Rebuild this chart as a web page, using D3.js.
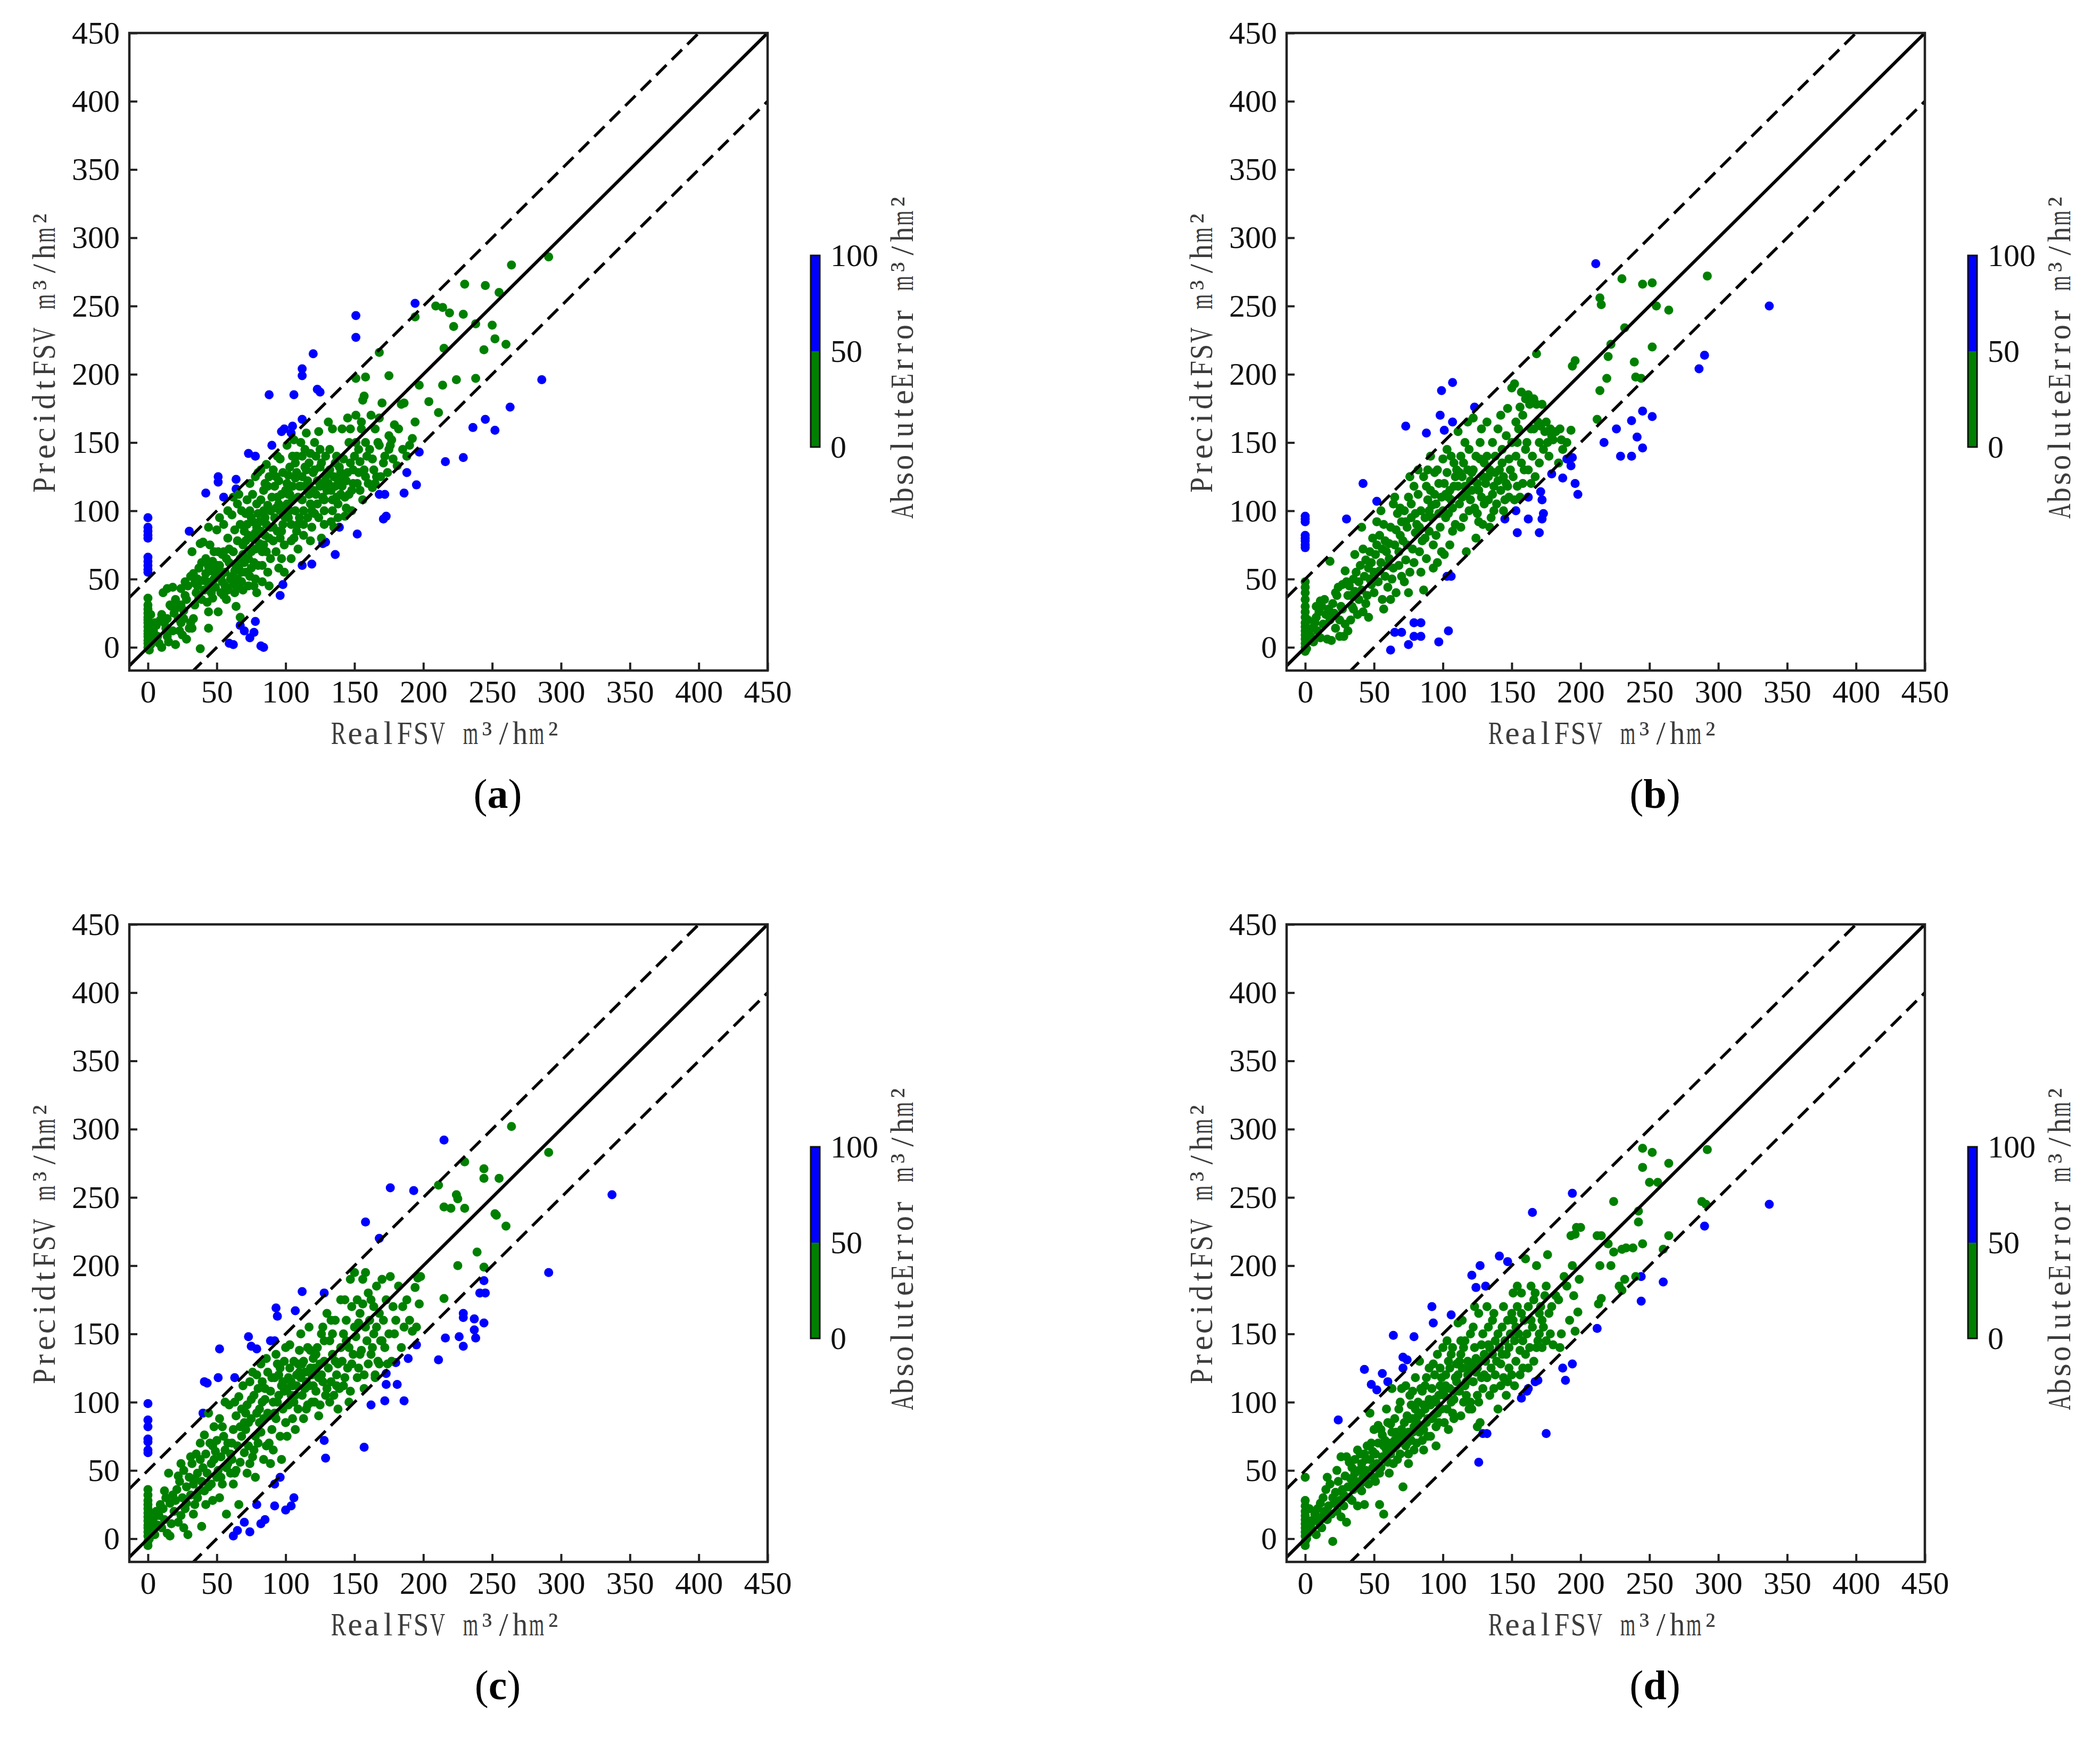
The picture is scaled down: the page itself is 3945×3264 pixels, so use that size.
<!DOCTYPE html>
<html>
<head>
<meta charset="utf-8">
<script src="https://cdn.jsdelivr.net/npm/d3@7"></script>
<style>
  html, body { margin: 0; padding: 0; background: #fff; overflow: hidden; }
  svg { display: block; }
</style>
</head>
<body>
<svg id="chart" width="3945" height="3264"></svg>
<script>
const pointsA = [
  [0,95],[0,88],[0,85],[0,82],[0,80],[0,66],[0,63],[0,60],[0,57],[0,55],
  [30,85],[42,113],[51,125],[51,121],[55,110],[64,123],[64,116],[73,142],[78,140],[88,185],[90,148],[97,158],[99,160],[105,162],[104,157],[106,185],[112,204],[112,199],[112,167],[120,215],[123,189],[125,187],[151,243],[151,227],[194,252],[197,143],[188,128],[186,113],[195,119],[216,136],[229,139],[236,161],[245,167],[252,159],[263,176],[286,196],[168,112],[172,112],[171,94],[173,96],[152,83],[139,88],[136,68],[127,76],[129,77],[119,61],[112,60],[98,46],[96,38],[67,16],[70,12],[74,7],[77,11],[78,19],[82,1],[84,0],[59,3],[62,2],
  [0,0],[0,3],[0,5],[0,8],[0,10],[0,12],[0,15],[0,18],[0,20],[0,22],[0,25],[0,28],[0,31],[0,36],[1,-2],[1,6],[1,13],[2,2],[2,17],[2,24],[3,10],[4,12],[5,6],[5,18],
  [6,16],[7,8],[8,3],[10,24],[10,0],[11,40],[12,18],[14,21],[14,8],[14,43],[15,4],[16,31],[17,30],[18,44],[19,25],[20,2],[20,35],[18,12],[13,14],[9,20],
  [22,21],[24,18],[25,9],[26,21],[28,6],[24,43],[24,31],[26,27],[27,38],[29,45],[30,14],[23,12],[28,35],[21,29],[27,48],
  [31,18],[32,14],[33,21],[34,31],[33,54],[37,58],[38,76],[36,45],[38,-1],[35,40],[39,35],[36,50],[32,70],[34,47],[37,36],[39,62],[31,52],
  [40,49],[40,77],[42,54],[44,59],[44,14],[44,26],[43,33],[47,63],[48,70],[45,45],[46,40],[48,50],[42,65],[49,55],[45,75],[47,36],[50,86],[41,42],[46,56],[49,44],[43,48],[50,60],[44,88],
  [51,26],[51,70],[55,70],[52,60],[54,48],[56,55],[58,42],[53,40],[57,65],[58,80],[52,95],[55,90],[60,50],[59,62],[57,35],[53,52],[56,45],[54,68],[59,72],[51,58],[55,38],[58,100],
  [61,97],[63,86],[62,70],[64,60],[65,50],[66,45],[68,55],[67,65],[69,75],[63,40],[68,100],[65,105],[62,110],[66,112],[70,85],[70,62],[69,42],[64,30],[67,22],[61,52],[63,56],[65,78],[67,90],[69,68],[62,46],[66,58],[68,48],
  [72,108],[74,100],[75,95],[72,90],[76,80],[78,72],[73,65],[75,58],[78,50],[71,55],[77,45],[79,40],[74,120],[76,112],[78,125],[80,98],[80,128],[79,88],[73,45],[80,60],[71,78],[73,82],[75,70],[77,62],[79,105],[71,98],[76,92],[74,52],[78,84],
  [82,108],[84,100],[85,95],[86,90],[82,85],[88,80],[84,75],[86,70],[89,65],[83,60],[87,55],[88,45],[85,120],[84,115],[82,130],[88,125],[90,110],[86,134],[89,100],[83,48],[81,92],[87,104],[85,82],[83,70],[89,88],[81,76],[87,118],
  [92,118],[94,110],[95,105],[96,100],[92,95],[98,90],[94,85],[96,80],[99,75],[93,70],[97,65],[95,58],[99,55],[91,130],[93,125],[96,138],[98,128],[100,115],[100,102],[94,140],[91,88],[97,112],[93,102],[99,96],[95,122],[91,78],[97,85],
  [101,120],[103,112],[105,108],[107,100],[102,95],[104,90],[108,85],[106,80],[109,72],[103,132],[105,140],[108,128],[110,118],[101,148],[106,152],[104,65],[110,95],[102,126],[107,135],[109,110],[101,105],[103,100],[105,118],[107,124],[109,90],[104,78],[102,112],[108,140],
  [112,125],[114,118],[115,130],[117,112],[112,140],[118,105],[113,100],[116,95],[119,88],[111,150],[114,145],[117,135],[120,128],[113,82],[118,78],[115,157],[120,115],[112,108],[114,132],[116,122],[118,142],[119,100],[111,118],[113,90],
  [121,130],[123,122],[125,118],[127,110],[122,140],[128,100],[124,95],[126,135],[129,125],[121,150],[125,145],[128,90],[130,115],[123,105],[126,80],[129,140],[124,158],[130,128],[122,112],[127,120],[125,132],[121,98],[128,108],
  [131,120],[133,115],[135,125],[137,110],[132,130],[138,105],[134,100],[136,135],[139,120],[131,165],[134,160],[137,140],[140,128],[133,92],[138,95],[135,88],[140,112],[132,145],[136,118],[139,132],[134,108],[137,124],
  [141,118],[143,110],[145,128],[147,135],[142,125],[148,100],[144,102],[146,150],[149,120],[141,160],[145,168],[147,160],[150,140],[143,96],[148,115],[146,112],[142,138],[149,130],[144,122],
  [151,150],[153,145],[155,160],[157,130],[152,120],[158,125],[154,115],[156,108],[159,140],[151,170],[155,165],[157,184],[160,120],[153,128],[158,150],[151,197],[158,198],[156,181],[154,136],
  [161,145],[163,138],[165,120],[167,150],[162,170],[168,148],[164,130],[166,125],[169,125],[168,168],[170,179],[165,160],[168,216],[163,117],
  [172,140],[175,155],[178,138],[174,128],[176,148],[179,163],[171,135],[175,145],[175,199],[177,152],
  [181,133],[184,178],[186,179],[185,145],[190,148],[194,165],[197,192],[192,153],[188,140],[194,242],[182,160],
  [291,286],[264,280],[255,260],[245,265],[230,266],[229,244],[219,245],[209,250],[214,249],[222,235],[238,237],[250,236],[252,226],[260,222],[244,218],[215,219],[224,196],[238,197],[214,192],[211,172],[204,180]
];

const pointsB = [
  [0,96],[0,94],[0,92],[0,82],[0,80],[0,78],[0,75],[0,73],[30,94],[42,120],[52,107],[73,162],[88,157],[99,188],[98,170],[107,194],[107,165],[101,159],[123,176],[211,281],[337,250],[286,204],[290,214],[252,169],[245,173],[237,166],[241,154],[245,146],[237,140],[229,140],[226,160],[217,150],[190,138],[194,139],[193,133],[196,120],[198,112],[187,124],[179,127],[171,114],[172,108],[173,98],[172,94],[170,84],[162,110],[162,94],[153,100],[154,84],[145,94],[103,52],[106,52],[62,-2],[65,11],[70,11],[75,2],[79,8],[79,18],[84,18],[84,8],[97,4],[104,12],
  [0,0],[0,-3],[0,3],[0,6],[0,9],[0,12],[0,15],[0,18],[0,22],[0,26],[0,30],[0,35],[0,40],[0,44],[0,48],[1,-1],[1,10],[2,5],[2,20],
  [4,8],[5,14],[6,4],[7,18],[8,22],[9,12],[10,26],[11,7],[12,30],[13,17],[14,35],[15,24],[16,6],[17,28],[18,63],[19,5],[20,32],[18,20],[11,34],[8,30],
  [21,25],[22,14],[23,38],[24,44],[25,20],[26,30],[27,46],[28,8],[29,17],[30,48],[27,28],[22,40],[29,56],[25,8],
  [31,12],[32,45],[33,38],[34,30],[35,50],[36,41],[37,55],[38,24],[39,35],[40,60],[33,20],[36,68],[39,48],[35,28],[31,38],
  [41,42],[42,26],[43,52],[44,64],[45,38],[46,58],[47,70],[48,46],[49,80],[50,55],[41,88],[44,32],[46,22],[48,62],[42,72],[50,40],[47,50],
  [51,68],[52,75],[53,48],[54,82],[55,62],[56,35],[57,90],[58,52],[59,70],[60,44],[52,92],[55,100],[57,28],[58,78],[60,60],[54,56],[56,72],
  [61,65],[62,88],[63,50],[64,105],[65,75],[66,40],[67,98],[68,60],[69,82],[70,52],[62,35],[65,110],[68,70],[70,92],[64,58],[66,86],[61,76],[69,102],
  [71,78],[72,100],[73,64],[74,88],[75,110],[76,55],[77,95],[78,72],[79,118],[80,84],[72,48],[75,40],[77,105],[79,62],[74,75],[73,92],[80,98],[76,125],
  [81,90],[82,112],[83,70],[84,100],[85,78],[86,125],[87,95],[88,65],[89,108],[90,85],[82,130],[84,55],[86,42],[88,118],[90,100],[83,88],[87,80],[89,130],
  [91,115],[92,95],[93,75],[94,128],[95,105],[96,62],[97,120],[98,88],[99,110],[100,138],[91,140],[93,58],[95,82],[97,98],[99,70],[94,112],[96,130],[100,100],[92,104],
  [101,120],[102,95],[103,128],[104,110],[105,75],[106,140],[107,102],[108,118],[109,90],[110,130],[101,68],[103,145],[105,115],[107,85],[109,125],[104,98],[106,108],[108,135],[102,112],
  [111,118],[112,105],[113,140],[114,125],[115,95],[116,150],[117,112],[118,130],[119,100],[120,122],[111,158],[113,88],[115,135],[117,70],[119,145],[112,128],[114,110],[116,118],[120,108],[118,165],
  [121,115],[122,130],[123,102],[124,140],[125,120],[126,92],[127,150],[128,110],[129,125],[130,135],[122,168],[124,80],[126,115],[128,160],[130,105],[121,128],[125,98],[127,138],[129,90],
  [131,120],[132,140],[133,108],[134,130],[135,95],[136,150],[137,118],[138,128],[139,105],[140,160],[132,165],[134,88],[136,112],[138,140],[140,122],[133,125],[137,100],
  [141,130],[142,115],[143,145],[144,125],[145,108],[146,155],[147,118],[148,138],[149,130],[150,190],[142,170],[144,100],[146,120],[148,110],[150,150],[143,135],[147,175],
  [151,125],[152,193],[153,140],[154,118],[155,160],[156,110],[157,135],[158,170],[159,130],[160,182],[152,108],[154,150],[156,176],[158,120],[160,145],[157,187],[153,165],
  [161,150],[162,130],[163,178],[164,160],[165,140],[166,182],[167,125],[168,215],[169,165],[170,150],[162,185],[164,120],[168,178],[170,135],[166,160],
  [171,162],[172,178],[173,145],[174,158],[175,165],[176,150],[178,160],[179,155],[177,140],[180,152],
  [182,158],[185,160],[187,145],[184,135],[190,150],[193,159],[194,206],[196,210],[186,152],
  [292,272],[264,247],[255,250],[252,267],[245,266],[230,270],[214,256],[215,251],[232,234],[222,222],[220,213],[219,197],[214,188],[212,167],[239,209],[240,198],[252,220],[244,197]
];

const pointsC = [
  [0,99],[0,87],[0,82],[0,73],[0,71],[0,65],[0,63],[40,92],[41,115],[43,114],[52,139],[51,118],[63,118],[73,148],[75,141],[79,139],[89,145],[92,145],[93,169],[94,163],[107,167],[112,181],[128,180],[158,232],[168,220],[176,257],[193,255],[215,292],[337,252],[291,195],[244,189],[241,180],[245,180],[237,161],[244,158],[237,153],[238,147],[229,165],[229,162],[229,141],[226,148],[216,147],[211,131],[195,142],[189,132],[186,101],[181,113],[180,129],[173,113],[173,121],[172,101],[162,98],[157,67],[128,72],[129,59],[92,40],[96,45],[106,30],[104,24],[100,21],[92,24],[85,14],[82,11],[79,25],[74,5],[70,12],[65,6],[62,2],
  [0,-5],[0,-2],[0,2],[0,5],[0,8],[0,10],[0,13],[0,16],[0,19],[0,22],[0,25],[0,28],[0,32],[0,36],[1,0],[1,12],[2,6],[2,18],[3,9],
  [4,15],[5,3],[6,20],[7,10],[8,17],[9,25],[10,8],[11,22],[12,14],[13,30],[14,4],[15,48],[16,26],[17,11],[18,32],[19,20],[20,28],[16,2],[12,35],
  [21,36],[22,12],[23,42],[24,17],[25,30],[26,50],[27,22],[28,38],[29,3],[30,45],[24,55],[26,8],[28,26],[22,46],
  [31,32],[32,55],[33,40],[34,25],[35,62],[36,48],[37,35],[38,70],[39,9],[40,52],[31,60],[34,44],[36,30],[38,58],[33,18],[39,42],
  [41,76],[42,62],[43,48],[44,38],[45,70],[46,55],[47,28],[48,82],[49,64],[50,45],[42,25],[44,92],[46,40],[48,58],[50,72],[41,35],[47,68],
  [51,50],[52,88],[53,60],[54,40],[55,75],[56,65],[57,18],[58,55],[59,98],[60,48],[52,30],[54,82],[56,100],[58,70],[60,62],[53,45],[57,52],
  [61,58],[62,80],[63,48],[64,90],[65,68],[66,104],[67,56],[68,75],[69,112],[70,63],[62,40],[64,50],[66,25],[68,95],[70,85],[61,70],[63,100],[67,82],
  [71,80],[72,98],[73,68],[74,115],[75,88],[76,60],[77,105],[78,75],[79,92],[80,110],[72,48],[74,55],[76,122],[78,45],[80,70],[71,92],[73,85],[75,102],[77,65],[79,120],
  [81,95],[82,78],[83,115],[84,88],[85,102],[86,68],[87,122],[88,90],[89,108],[90,80],[82,128],[84,58],[86,132],[88,70],[90,118],[81,85],[83,100],[85,110],[87,92],[89,55],
  [91,100],[92,118],[93,88],[94,128],[95,105],[96,75],[97,112],[98,95],[99,130],[100,85],[91,65],[93,135],[95,120],[97,58],[99,108],[92,92],[94,100],[96,125],[98,115],[100,140],
  [101,110],[102,98],[103,125],[104,115],[105,88],[106,130],[107,105],[108,120],[109,95],[110,138],[101,75],[103,142],[105,112],[107,80],[109,128],[102,118],[104,105],[106,100],[108,112],[110,122],
  [111,118],[112,105],[113,130],[114,122],[115,95],[116,140],[117,112],[118,125],[119,100],[120,132],[111,150],[113,88],[115,115],[117,155],[119,120],[112,128],[114,110],[116,98],[118,138],[120,112],
  [121,125],[122,108],[123,140],[124,118],[125,98],[126,150],[127,115],[128,130],[129,105],[130,165],[122,135],[124,90],[126,120],[128,145],[130,110],[121,100],[125,128],[127,155],
  [131,125],[132,145],[133,115],[134,135],[135,105],[136,160],[137,120],[138,128],[139,110],[140,175],[132,100],[134,150],[136,130],[138,95],[140,140],[133,160],[137,112],
  [141,130],[142,150],[143,118],[144,160],[145,125],[146,140],[147,108],[148,170],[149,135],[150,195],[142,112],[144,145],[146,100],[148,128],[150,155],[143,175],[147,190],
  [151,148],[152,175],[153,125],[154,165],[155,138],[156,190],[157,120],[158,155],[159,145],[160,180],[152,118],[154,135],[156,172],[158,195],[160,128],[153,158],[157,110],
  [161,160],[162,175],[163,140],[164,150],[165,120],[166,185],[167,130],[168,165],[169,145],[170,190],[162,135],[164,170],[166,155],[168,128],[170,145],[165,118],
  [171,160],[172,140],[173,175],[175,150],[176,192],[177,130],[178,170],[179,150],[180,160],[174,128],
  [182,185],[184,140],[186,155],[188,175],[190,160],[192,152],[194,184],[196,191],[197,172],[195,155],[198,192],[185,170],
  [264,302],[291,283],[230,276],[244,271],[244,264],[255,264],[211,259],[215,243],[220,242],[224,252],[225,249],[230,242],[252,238],[253,237],[260,229],[239,210],[244,199],[225,200],[215,176]
];

const pointsD = [
  [24,87],[43,124],[48,113],[52,109],[56,121],[60,115],[64,149],[71,133],[74,131],[71,125],[79,148],[92,170],[93,158],[106,164],[121,193],[124,184],[131,185],[127,200],[141,207],[147,203],[165,239],[194,253],[337,245],[290,229],[260,188],[244,192],[244,174],[212,154],[194,128],[187,125],[189,116],[169,116],[167,115],[162,110],[161,108],[157,103],[175,77],[129,77],[132,77],[126,56],
  [0,-5],[0,-2],[0,2],[0,5],[0,8],[0,11],[0,14],[0,17],[0,20],[0,24],[0,28],[0,45],[1,0],[1,9],[2,4],[2,13],[3,22],
  [4,10],[5,6],[6,14],[7,18],[8,3],[9,22],[10,12],[11,26],[12,16],[13,30],[14,20],[15,36],[16,14],[17,24],[18,40],[19,18],[20,-2],[20,30],[12,8],[16,45],
  [21,26],[22,34],[23,20],[24,42],[25,28],[26,60],[27,36],[28,24],[29,46],[30,12],[23,50],[26,16],[28,32],[30,60],
  [31,38],[32,30],[33,44],[34,52],[35,36],[36,58],[37,42],[38,24],[39,50],[40,62],[32,56],[34,28],[36,48],[38,65],[40,40],[33,38],
  [41,55],[42,45],[43,62],[44,50],[45,68],[46,40],[47,58],[48,70],[49,52],[50,80],[41,35],[43,25],[45,46],[47,92],[49,64],[50,45],[44,58],
  [51,62],[52,55],[53,70],[54,48],[55,80],[56,60],[57,18],[58,72],[59,65],[60,85],[51,42],[53,83],[55,52],[57,68],[59,95],[60,56],[54,25],[56,76],
  [61,70],[62,62],[63,78],[64,55],[65,88],[66,68],[67,75],[68,95],[69,62],[70,80],[61,48],[63,110],[65,72],[67,58],[69,100],[62,84],[64,66],[66,78],[68,70],[70,110],
  [71,76],[72,85],[73,68],[74,90],[75,78],[76,105],[77,72],[78,88],[79,65],[80,95],[71,38],[73,112],[75,62],[77,98],[79,82],[72,75],[74,70],[76,88],[78,78],[80,118],[75,55],[78,108],
  [81,85],[82,100],[83,78],[84,92],[85,108],[86,80],[87,95],[88,118],[89,88],[90,102],[81,70],[83,130],[85,72],[87,112],[89,75],[82,90],[84,82],[86,98],[88,85],[90,125],[86,65],[84,110],
  [91,98],[92,110],[93,90],[94,120],[95,100],[96,135],[97,85],[98,112],[99,95],[100,140],[91,75],[93,128],[95,82],[97,105],[99,118],[92,88],[94,102],[96,92],[98,125],[100,108],[95,68],
  [101,105],[102,120],[103,95],[104,130],[105,110],[106,100],[107,140],[108,88],[109,118],[110,128],[101,85],[103,145],[105,125],[107,92],[109,108],[102,112],[104,80],[106,135],[108,102],[110,115],
  [111,120],[112,108],[113,135],[114,125],[115,100],[116,145],[117,115],[118,130],[119,95],[120,150],[111,158],[113,90],[115,140],[117,105],[119,125],[112,130],[114,160],[116,112],[118,120],[120,100],[113,145],
  [121,128],[122,115],[123,140],[124,122],[125,105],[126,165],[127,130],[128,118],[129,150],[130,135],[121,95],[123,170],[125,125],[127,85],[129,110],[122,155],[124,132],[126,100],[128,142],[130,120],[125,82],
  [131,130],[132,118],[133,155],[134,140],[135,125],[136,160],[137,110],[138,145],[139,130],[140,150],[132,170],[134,105],[136,135],[138,120],[140,95],[133,142],[137,165],
  [141,140],[142,128],[143,155],[144,118],[145,145],[146,135],[147,160],[148,125],[149,150],[150,165],[142,112],[144,170],[146,105],[148,140],[150,120],[143,135],[147,115],
  [151,160],[152,145],[153,130],[154,170],[155,150],[156,138],[157,180],[158,125],[159,160],[160,205],[152,112],[154,185],[156,120],[158,145],[160,135],[153,155],[157,165],[151,180],
  [161,150],[162,170],[163,140],[164,185],[165,155],[166,130],[167,180],[168,200],[169,145],[170,165],[162,125],[164,160],[166,175],[168,140],[170,150],
  [171,170],[172,160],[173,155],[174,178],[175,145],[176,208],[177,165],[178,150],[179,170],[180,142],[172,140],[175,185],
  [182,178],[184,175],[186,150],[188,192],[190,185],[192,160],[193,222],[194,200],[195,178],[197,228],[198,166],[196,152],[199,190],[185,140],
  [245,286],[252,283],[264,275],[292,285],[288,247],[291,245],[245,272],[250,261],[256,261],[224,247],[242,240],[200,228],[196,223],[212,222],[215,222],[220,216],[224,210],[230,212],[233,213],[238,213],[242,232],[245,216],[264,222],[214,200],[232,190],[228,185],[230,182],[215,176],[213,172],[222,200],[240,192],[260,212]
];

const axisTicks = [0, 50, 100, 150, 200, 250, 300, 350, 400, 450];
const errorTicks = [0, 50, 100];
const errorBands = [[0, 50], [50, 100]];
const bandColors = ["#008000", "#0000ff"];
const guideOffsets = [0, 50, -50];
const panelLabels = ["a", "b", "c", "d"];
const xTitle = "RealFSV m³/hm²";
const yTitle = "PrecidtFSV m³/hm²";
const cbTitle = "AbsoluteError m³/hm²";

const svg = d3.select("#chart");
svg.append("rect").attr("width", 3945).attr("height", 3264).attr("fill", "#fff");

const margin = { left: 243, top: 62 };
const innerWidth = 1199;
const innerHeight = 1198;
const tickFont = "'Liberation Serif', 'Times New Roman', serif";
const titleFont = "'Liberation Serif', 'DejaVu Serif', serif";

const xScale = d3.scaleLinear().domain([-13.5, 450]).range([0, innerWidth]);
const yScale = d3.scaleLinear().domain([-17, 450]).range([innerHeight, 0]);
const colorScale = d3.scaleThreshold().domain([50]).range(bandColors);
const errScale = d3.scaleLinear().domain([0, 100]).range([840, 480]);

// half-width serif text on a fixed pitch, like the SimSun labels in the source
function monoTitle(parent, str, cx, cy, angle, pitch) {
  const t = parent.append("text")
    .attr("transform", `translate(${cx},${cy}) rotate(${angle})`)
    .attr("fill", "#3c3c3c")
    .attr("font-family", titleFont)
    .attr("font-size", 62);
  const n = str.length;
  str.split("").forEach((ch, k) => {
    if (ch === " ") return;
    const s = t.append("tspan")
      .attr("x", (k - (n - 1) / 2) * pitch)
      .attr("y", 0)
      .attr("text-anchor", "middle")
      .text(ch);
    const w = s.node().getComputedTextLength();
    if (w > pitch * 0.92) {
      s.attr("textLength", pitch * 0.92).attr("lengthAdjust", "spacingAndGlyphs");
    }
  });
  return t;
}

const panels = [
  { pts: pointsA, dx: 0, dy: 0 },
  { pts: pointsB, dx: 2174, dy: 0 },
  { pts: pointsC, dx: 0, dy: 1675 },
  { pts: pointsD, dx: 2174, dy: 1675 }
];

panels.forEach((p, i) => {
  const pg = svg.append("g").attr("transform", `translate(${p.dx},${p.dy})`);
  const g = pg.append("g").attr("transform", `translate(${margin.left},${margin.top})`);

  const clipId = "clip" + i;
  g.append("clipPath").attr("id", clipId)
    .append("rect").attr("width", innerWidth).attr("height", innerHeight);

  const plot = g.append("g").attr("clip-path", `url(#${clipId})`);

  plot.selectAll("circle")
    .data(p.pts)
    .enter()
    .append("circle")
    .attr("cx", d => xScale(d[0]))
    .attr("cy", d => yScale(d[1]))
    .attr("r", 8.5)
    .attr("fill", d => colorScale(Math.abs(d[1] - d[0])));

  const x0 = xScale.domain()[0], x1 = xScale.domain()[1];
  plot.selectAll("line.guide")
    .data(guideOffsets)
    .enter()
    .append("line")
    .attr("class", "guide")
    .attr("x1", xScale(x0))
    .attr("y1", o => yScale(x0 + o))
    .attr("x2", xScale(x1))
    .attr("y2", o => yScale(x1 + o))
    .attr("stroke", "#000")
    .attr("stroke-width", o => o === 0 ? 6 : 5.5)
    .attr("stroke-dasharray", o => o === 0 ? null : "27,14");

  const xAxis = d3.axisBottom(xScale).tickValues(axisTicks)
    .tickSize(-15).tickSizeOuter(0).tickPadding(17);
  const yAxis = d3.axisLeft(yScale).tickValues(axisTicks)
    .tickSize(-15).tickSizeOuter(0).tickPadding(18);

  const xAxisG = g.append("g").attr("transform", `translate(0,${innerHeight})`).call(xAxis);
  const yAxisG = g.append("g").call(yAxis);
  [xAxisG, yAxisG].forEach(a => {
    a.attr("font-size", 60).attr("font-family", tickFont);
    a.select(".domain").remove();
    a.selectAll(".tick line").attr("stroke", "#222").attr("stroke-width", 4);
    a.selectAll(".tick text").attr("fill", "#111");
  });

  g.append("rect")
    .attr("width", innerWidth)
    .attr("height", innerHeight)
    .attr("fill", "none")
    .attr("stroke", "#222")
    .attr("stroke-width", 4.5);

  monoTitle(pg, xTitle, margin.left + innerWidth / 2 - 5, 1398, 0, 31);
  monoTitle(pg, yTitle, 103, 661, -90, 31.3);

  // colour bar
  const cb = pg.append("g");
  cb.selectAll("rect.band")
    .data(errorBands)
    .enter()
    .append("rect")
    .attr("class", "band")
    .attr("x", 1523)
    .attr("y", d => errScale(d[1]))
    .attr("width", 17)
    .attr("height", d => errScale(d[0]) - errScale(d[1]))
    .attr("fill", (d, j) => bandColors[j]);
  cb.append("rect")
    .attr("x", 1523)
    .attr("y", errScale(100))
    .attr("width", 17)
    .attr("height", errScale(0) - errScale(100))
    .attr("fill", "none")
    .attr("stroke", "#111")
    .attr("stroke-width", 3);
  cb.selectAll("text.cbtick")
    .data(errorTicks)
    .enter()
    .append("text")
    .attr("class", "cbtick")
    .attr("x", 1560)
    .attr("y", d => errScale(d))
    .attr("dy", "0.33em")
    .attr("fill", "#111")
    .attr("font-family", tickFont)
    .attr("font-size", 60)
    .text(d => d);

  monoTitle(pg, cbTitle, 1715, 670, -90, 30.6);

  const lab = pg.append("text")
    .attr("x", 935)
    .attr("y", 1518)
    .attr("text-anchor", "middle")
    .attr("fill", "#000")
    .attr("font-family", tickFont)
    .attr("font-size", 78);
  lab.append("tspan").text("(");
  lab.append("tspan").attr("font-weight", "bold").text(panelLabels[i]);
  lab.append("tspan").text(")");
});
</script>
</body>
</html>
